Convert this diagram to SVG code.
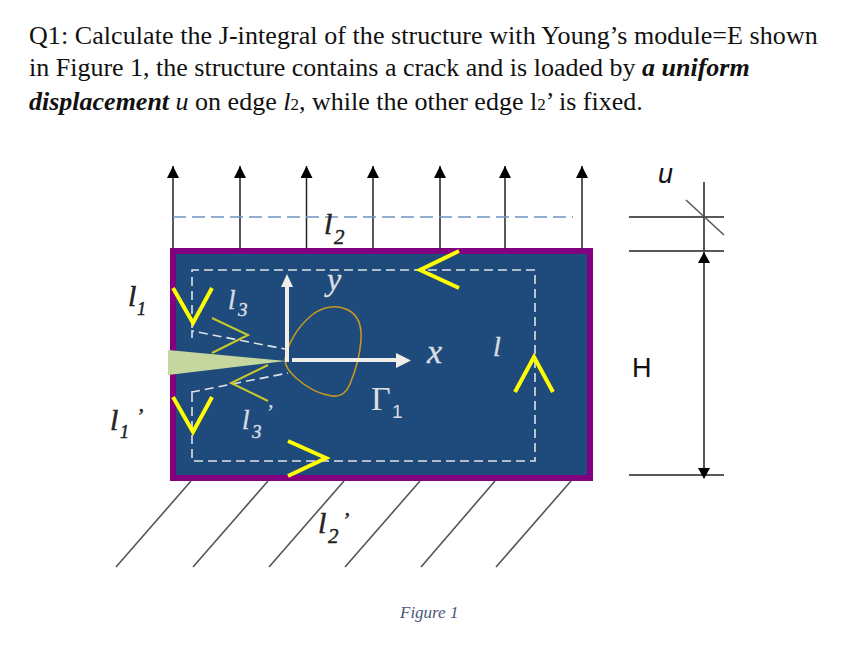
<svg xmlns="http://www.w3.org/2000/svg" width="842" height="646" viewBox="0 0 842 646">
<defs>
<marker id="ah" markerUnits="userSpaceOnUse" markerWidth="13" markerHeight="13" refX="12" refY="6" orient="auto"><path d="M0,0L12,6L0,12Z" fill="#000"/></marker>
</defs>
<style>
text{white-space:pre}
.q{font:26px "Liberation Serif",serif;fill:#111}
.b{font-weight:bold;font-style:italic}
.i{font-style:italic}
.l{font-family:"Liberation Serif",serif;font-style:italic;fill:#222;stroke:#222;stroke-width:.5}
.w{font-family:"Liberation Serif",serif;font-style:italic;fill:#d9dde0;stroke:#d9dde0;stroke-width:.4}
.dash{fill:none;stroke:#dfe3e6;stroke-width:1.6;stroke-dasharray:9 5}
.y{fill:none;stroke:#ffff00;stroke-width:4}
.y2{fill:none;stroke:#c9c92a;stroke-width:2}
.k{stroke:#222;stroke-width:1.5;fill:none}
.h{stroke:#555;stroke-width:1.6;fill:none}
</style>
<g id="question">
<text class="q" x="29" y="44" letter-spacing=".07">Q1: Calculate the J-integral of the structure with Young’s module=E shown</text>
<text class="q" x="29" y="76">in Figure 1, the structure contains a crack and is loaded by <tspan class="b">a uniform</tspan></text>
<text class="q" x="29" y="110"><tspan class="b">displacement</tspan> <tspan class="i">u</tspan> on edge <tspan class="i">l</tspan><tspan font-size="17">2</tspan>, while the other edge l<tspan font-size="17">2</tspan>’ is fixed.</text>
</g>
<g id="plate">
<rect x="173" y="251" width="417" height="227" fill="#1f4a7c" stroke="#800080" stroke-width="6"/>
<path d="M168,350L286,361L168,375Z" fill="#c5d79f"/>
</g>
<g id="connectors">
<g class="k">
<path d="M173,249V166" marker-end="url(#ah)"/>
<path d="M240,249V166" marker-end="url(#ah)"/>
<path d="M306.500,249V166" marker-end="url(#ah)"/>
<path d="M373,249V166" marker-end="url(#ah)"/>
<path d="M440,249V166" marker-end="url(#ah)"/>
<path d="M505,249V166" marker-end="url(#ah)"/>
<path d="M582,249V166" marker-end="url(#ah)"/>
</g>
<path d="M173,217H573" fill="none" stroke="#6d93c0" stroke-width="1.500" stroke-dasharray="13 6"/>
<path class="dash" d="M192,328V270H535V461H192V391"/>
<path class="dash" d="M192,338V331L285,349"/>
<path class="dash" d="M192,391V392L288,373"/>
<path class="y" d="M173,288L193,323L212,288"/>
<path class="y" d="M173,397L193,432L212,397"/>
<path class="y" d="M459,251L420,270L459,288"/>
<path class="y" d="M515,392L534,357L553,392"/>
<path class="y" d="M288,441L326,458L288,476"/>
<path class="y2" d="M212,318L248,335L212,353"/>
<path class="y2" d="M268,365L231,383L268,401"/>
<path d="M285,360C287,345 297,327 312,315C322,307 336,304 348,310C358,315 362,325 361,340C360,355 355,372 350,384C346,394 340,397 332,396C318,394 305,386 296,378C290,372 285,367 285,360" fill="none" stroke="#c49a20" stroke-width="1.600"/>
<path d="M287,362V285" fill="none" stroke="#f0eee6" stroke-width="4"/>
<path d="M281,287L287,274L293,287Z" fill="#f0eee6"/>
<path d="M292,360H398" fill="none" stroke="#f0eee6" stroke-width="4"/>
<path d="M396,353L411,360.500L396,368Z" fill="#f0eee6"/>
<g class="k">
<path d="M629,217H724M629,251H724M629,475H724"/>
<path d="M704,182V251"/>
<path d="M686,200L724,235" stroke="#555"/>
<path d="M704,252V475"/>
</g>
<path d="M698,263L704,252L710,263Z M698,468L704,479L710,468Z" fill="#000"/>
<g class="h">
<path d="M191,481L116,567M268,481L193,567M344,481L269,567M420,481L345,567M495,481L421,567M571,481L496,567"/>
</g>
</g>
<g id="labels">
<text class="l" x="324" y="234" font-size="30">l</text><text class="l" x="334" y="244" font-size="21">2</text>
<text class="l" x="128" y="306" font-size="30">l</text><text class="l" x="137" y="315" font-size="18">1</text>
<text class="l" x="110" y="430" font-size="30">l</text><text class="l" x="120" y="438" font-size="18">1</text><text class="l" x="136" y="423" font-size="22">’</text>
<text class="l" x="318" y="533" font-size="30">l</text><text class="l" x="328" y="543" font-size="21">2</text><text class="l" x="342" y="527" font-size="22">’</text>
<text class="w" x="228" y="309" font-size="27">l</text><text class="w" x="238" y="316" font-size="19">3</text>
<text class="w" x="242" y="429" font-size="27">l</text><text class="w" x="252" y="438" font-size="19">3</text><text class="w" x="266" y="419" font-size="20">’</text>
<text class="w" x="327" y="290" font-size="32">y</text>
<text class="w" x="427" y="363" font-size="34">x</text>
<text class="w" x="493" y="356" font-size="28">l</text>
<text x="371" y="410" font-family="Liberation Serif, serif" font-size="34" fill="#d9dde0">Γ</text>
<text x="392" y="418" font-family="Liberation Sans, sans-serif" font-size="19" fill="#d9dde0">1</text>
<text x="658" y="183" font-family="Liberation Sans, sans-serif" font-style="italic" font-size="27" fill="#111">u</text>
<text x="632" y="377" font-family="Liberation Sans, sans-serif" font-size="27" fill="#111">H</text>
<text x="400" y="618" font-family="Liberation Serif, serif" font-style="italic" font-size="17" fill="#4a5578">Figure 1</text>
</g>
</svg>
